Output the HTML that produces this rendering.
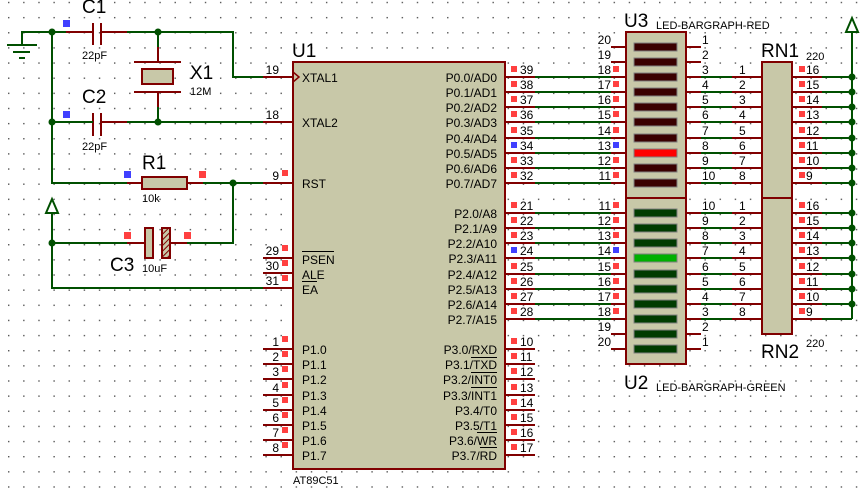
<!DOCTYPE html>
<html><head><meta charset="utf-8"><style>
html,body{margin:0;padding:0;background:#fff;}
svg{display:block;font-family:"Liberation Sans",sans-serif;}
.p{stroke:#800000;stroke-width:2;fill:none}
.w{stroke:#005000;stroke-width:2;fill:none}
.n{font-size:12px;fill:#000}
.l{font-size:12px;fill:#000}
.t{font-size:19px;fill:#000}
.s{font-size:11px;fill:#000}
</style></head><body>
<svg width="866" height="488" viewBox="0 0 866 488" xmlns="http://www.w3.org/2000/svg">
<defs>
<pattern id="g" x="8" y="1.8" width="15.14" height="15.14" patternUnits="userSpaceOnUse"><rect x="0" y="0" width="1.4" height="1.4" fill="#555"/></pattern>
<pattern id="h" width="4" height="4" patternUnits="userSpaceOnUse" patternTransform="rotate(45)"><rect width="4" height="4" fill="#c8c8a8"/><line x1="0" y1="0" x2="0" y2="4" stroke="#800000" stroke-width="2"/></pattern>
</defs>
<rect width="866" height="488" fill="url(#g)"/>

<!-- Left circuit -->
<g class="w">
<path d="M22 45V32H66"/>
<path d="M127 32H233V77H263"/>
<path d="M158 32V47M158 107V122"/>
<path d="M52 32V183H127"/>
<path d="M52 122H93M127 122H263"/>
<path d="M203 183H263M233 183V243H187"/>
<path d="M52 243H127"/>
<path d="M52 213V288H263"/>
</g>
<g class="p">
<path d="M66 32H93M93 23V45M101 23V45M101 32H127"/>
<path d="M66 122H93M93 113V136M101 113V136M101 122H127"/>
<path d="M158 47V62M134 62H181M134 92H181M158 92V107"/>
<path d="M127 183H142M187 183H203"/>
<path d="M127 243H145M170 243H187"/>
</g>
<line x1="93" y1="122" x2="66" y2="122" class="w"/>
<rect x="142" y="69" width="31" height="15" fill="#c8c8a8" stroke="#800000" stroke-width="2"/>
<rect x="142" y="177" width="45" height="12" fill="#c8c8a8" stroke="#800000" stroke-width="2"/>
<rect x="145" y="228" width="8" height="30" fill="#c8c8a8" stroke="#800000" stroke-width="2"/>
<rect x="162" y="228" width="8" height="30" fill="url(#h)" stroke="#800000" stroke-width="2"/>
<g stroke="#005000" stroke-width="2" fill="none">
<path d="M7 45H37M13 52H30M19 58H25"/>
<path d="M46 213L52 199L58 213Z"/>
<path d="M846 32L852 18L858 32Z"/>
</g>
<g fill="#005000">
<circle cx="52" cy="32" r="3.5"/><circle cx="158" cy="32" r="3.5"/><circle cx="52" cy="122" r="3.5"/><circle cx="158" cy="122" r="3.5"/><circle cx="233" cy="183" r="3.5"/><circle cx="52" cy="243" r="3.5"/>
</g>
<g fill="#4040ff"><rect x="63" y="20" width="7" height="7"/><rect x="63" y="111" width="7" height="7"/><rect x="124" y="171" width="7" height="7"/></g>
<g fill="#ff4040"><rect x="199" y="171" width="7" height="7"/><rect x="124" y="232" width="7" height="7"/><rect x="184" y="232" width="7" height="7"/></g>
<text x="82" y="13" class="t">C1</text>
<text x="82" y="103" class="t">C2</text>
<text x="142" y="169" class="t">R1</text>
<text x="110" y="271" class="t">C3</text>
<text x="190" y="79" class="t">X1</text>
<text x="82" y="59" class="s">22pF</text>
<text x="82" y="150" class="s">22pF</text>
<text x="142" y="202" class="s">10k</text>
<text x="142" y="272" class="s">10uF</text>
<text x="190" y="95" class="s">12M</text>

<!-- U1 -->
<rect x="293" y="62" width="212" height="407" fill="#c8c8a8" stroke="#800000" stroke-width="2"/>
<text x="292" y="57" class="t">U1</text>
<text x="293" y="484" class="s">AT89C51</text>
<path d="M293 72L299 77L293 82" stroke="#800000" stroke-width="1.5" fill="none"/>
<g class="p">
<path d="M263 77H293M263 122H293M263 183H293M263 258H293M263 273H293M263 288H293"/>
<path d="M263 349H293M263 364H293M263 379H293M263 395H293M263 410H293M263 425H293M263 440H293M263 455H293"/>
<path d="M505 77H535M505 92H535M505 107H535M505 122H535M505 138H535M505 153H535M505 168H535M505 183H535"/>
<path d="M505 213H535M505 228H535M505 243H535M505 258H535M505 274H535M505 289H535M505 304H535M505 319H535"/>
<path d="M505 349H535M505 364H535M505 379H535M505 395H535M505 410H535M505 425H535M505 440H535M505 455H535"/>
</g>
<g class="l">
<text x="302" y="264">PSEN</text><text x="302" y="279">ALE</text><text x="302" y="294">EA</text>
<text x="302" y="82">XTAL1</text><text x="302" y="127">XTAL2</text><text x="302" y="188">RST</text>
<text x="302" y="354">P1.0</text><text x="302" y="369">P1.1</text><text x="302" y="384">P1.2</text><text x="302" y="400">P1.3</text><text x="302" y="415">P1.4</text><text x="302" y="430">P1.5</text><text x="302" y="445">P1.6</text><text x="302" y="460">P1.7</text>
</g>
<g class="l" text-anchor="end">
<text x="497" y="82">P0.0/AD0</text><text x="497" y="97">P0.1/AD1</text><text x="497" y="112">P0.2/AD2</text><text x="497" y="127">P0.3/AD3</text><text x="497" y="143">P0.4/AD4</text><text x="497" y="158">P0.5/AD5</text><text x="497" y="173">P0.6/AD6</text><text x="497" y="188">P0.7/AD7</text>
<text x="497" y="218">P2.0/A8</text><text x="497" y="233">P2.1/A9</text><text x="497" y="248">P2.2/A10</text><text x="497" y="263">P2.3/A11</text><text x="497" y="279">P2.4/A12</text><text x="497" y="294">P2.5/A13</text><text x="497" y="309">P2.6/A14</text><text x="497" y="324">P2.7/A15</text>
<text x="497" y="354">P3.0/RXD</text><text x="497" y="369">P3.1/TXD</text><text x="497" y="384">P3.2/INT0</text><text x="497" y="400">P3.3/INT1</text><text x="497" y="415">P3.4/T0</text><text x="497" y="430">P3.5/T1</text><text x="497" y="445">P3.6/WR</text><text x="497" y="460">P3.7/RD</text>
</g>
<g stroke="#000" stroke-width="1">
<path d="M302 251.5H334M302 281.5H317"/>
<path d="M471 357.5H497M471 372.5H497M471 387.5H497M477 432.5H497M480 447.5H497"/>
</g>
<g class="n" text-anchor="end">
<text x="279" y="74">19</text><text x="279" y="119">18</text><text x="279" y="180">9</text><text x="279" y="255">29</text><text x="279" y="270">30</text><text x="279" y="285">31</text>
<text x="279" y="346">1</text><text x="279" y="361">2</text><text x="279" y="376">3</text><text x="279" y="392">4</text><text x="279" y="407">5</text><text x="279" y="422">6</text><text x="279" y="437">7</text><text x="279" y="452">8</text>
</g>
<g class="n">
<text x="520" y="74">39</text><text x="520" y="89">38</text><text x="520" y="104">37</text><text x="520" y="119">36</text><text x="520" y="135">35</text><text x="520" y="150">34</text><text x="520" y="165">33</text><text x="520" y="180">32</text>
<text x="520" y="210">21</text><text x="520" y="225">22</text><text x="520" y="240">23</text><text x="520" y="255">24</text><text x="520" y="271">25</text><text x="520" y="286">26</text><text x="520" y="301">27</text><text x="520" y="316">28</text>
<text x="520" y="346">10</text><text x="520" y="361">11</text><text x="520" y="376">12</text><text x="520" y="392">13</text><text x="520" y="407">14</text><text x="520" y="422">15</text><text x="520" y="437">16</text><text x="520" y="452">17</text>
</g>
<g fill="#ff4040">
<rect x="282" y="245" width="6" height="6"/><rect x="282" y="260" width="6" height="6"/><rect x="282" y="275" width="6" height="6"/>
<rect x="282" y="336" width="6" height="6"/><rect x="282" y="351" width="6" height="6"/><rect x="282" y="366" width="6" height="6"/><rect x="282" y="382" width="6" height="6"/><rect x="282" y="397" width="6" height="6"/><rect x="282" y="412" width="6" height="6"/><rect x="282" y="427" width="6" height="6"/><rect x="282" y="442" width="6" height="6"/>
<rect x="282" y="170" width="6" height="6"/>
<rect x="511" y="66" width="6" height="6"/><rect x="511" y="81" width="6" height="6"/><rect x="511" y="96" width="6" height="6"/><rect x="511" y="111" width="6" height="6"/><rect x="511" y="127" width="6" height="6"/><rect x="511" y="157" width="6" height="6"/><rect x="511" y="172" width="6" height="6"/>
<rect x="511" y="202" width="6" height="6"/><rect x="511" y="217" width="6" height="6"/><rect x="511" y="232" width="6" height="6"/><rect x="511" y="263" width="6" height="6"/><rect x="511" y="278" width="6" height="6"/><rect x="511" y="293" width="6" height="6"/><rect x="511" y="308" width="6" height="6"/>
<rect x="511" y="338" width="6" height="6"/><rect x="511" y="353" width="6" height="6"/><rect x="511" y="368" width="6" height="6"/><rect x="511" y="384" width="6" height="6"/><rect x="511" y="399" width="6" height="6"/><rect x="511" y="414" width="6" height="6"/><rect x="511" y="429" width="6" height="6"/><rect x="511" y="444" width="6" height="6"/>
</g>
<g fill="#4040ff"><rect x="511" y="142" width="6" height="6"/><rect x="511" y="247" width="6" height="6"/></g>

<!-- wires from U1 to bargraphs -->
<g class="w">
<path d="M535 77H611M535 92H611M535 107H611M535 122H611M535 138H611M535 153H611M535 168H611M535 183H611"/>
<path d="M535 213H611M535 228H611M535 243H611M535 258H611M535 274H611M535 289H611M535 304H611M535 319H611"/>
<path d="M701 77H732M701 92H732M701 107H732M701 122H732M701 138H732M701 153H732M701 168H732M701 183H732"/>
<path d="M701 213H732M701 228H732M701 243H732M701 258H732M701 274H732M701 289H732M701 304H732M701 319H732"/>
<path d="M822 77H852M822 92H852M822 107H852M822 122H852M822 138H852M822 153H852M822 168H852M822 183H852"/>
<path d="M822 213H852M822 228H852M822 243H852M822 258H852M822 274H852M822 289H852M822 304H852M822 319H852"/>
<path d="M852 32V319"/>
</g>
<g fill="#005000">
<circle cx="852" cy="77" r="3.5"/><circle cx="852" cy="92" r="3.5"/><circle cx="852" cy="107" r="3.5"/><circle cx="852" cy="122" r="3.5"/><circle cx="852" cy="138" r="3.5"/><circle cx="852" cy="153" r="3.5"/><circle cx="852" cy="168" r="3.5"/><circle cx="852" cy="183" r="3.5"/>
<circle cx="852" cy="213" r="3.5"/><circle cx="852" cy="228" r="3.5"/><circle cx="852" cy="243" r="3.5"/><circle cx="852" cy="258" r="3.5"/><circle cx="852" cy="274" r="3.5"/><circle cx="852" cy="289" r="3.5"/><circle cx="852" cy="304" r="3.5"/>
</g>

<!-- Bargraph pins -->
<g class="p">
<path d="M611 47H626M611 62H626M611 77H626M611 92H626M611 107H626M611 122H626M611 138H626M611 153H626M611 168H626M611 183H626"/>
<path d="M611 213H626M611 228H626M611 243H626M611 258H626M611 274H626M611 289H626M611 304H626M611 319H626M611 334H626M611 349H626"/>
<path d="M686 47H701M686 62H701M686 77H701M686 92H701M686 107H701M686 122H701M686 138H701M686 153H701M686 168H701M686 183H701"/>
<path d="M686 213H701M686 228H701M686 243H701M686 258H701M686 274H701M686 289H701M686 304H701M686 319H701M686 334H701M686 349H701"/>
<path d="M732 77H762M732 92H762M732 107H762M732 122H762M732 138H762M732 153H762M732 168H762M732 183H762"/>
<path d="M732 213H762M732 228H762M732 243H762M732 258H762M732 274H762M732 289H762M732 304H762M732 319H762"/>
<path d="M792 77H822M792 92H822M792 107H822M792 122H822M792 138H822M792 153H822M792 168H822M792 183H822"/>
<path d="M792 213H822M792 228H822M792 243H822M792 258H822M792 274H822M792 289H822M792 304H822M792 319H822"/>
</g>
<rect x="626" y="32" width="60" height="332" fill="#c8c8a8" stroke="#800000" stroke-width="2"/>
<line x1="626" y1="198" x2="686" y2="198" stroke="#800000" stroke-width="2"/>
<rect x="762" y="62" width="30" height="272" fill="#c8c8a8" stroke="#800000" stroke-width="2"/>
<line x1="762" y1="198" x2="792" y2="198" stroke="#800000" stroke-width="2"/>
<g stroke="#808080" stroke-width="1">
<g fill="#3a0000">
<rect x="634" y="43" width="43" height="8"/><rect x="634" y="58" width="43" height="8"/><rect x="634" y="73" width="43" height="8"/><rect x="634" y="88" width="43" height="8"/><rect x="634" y="103" width="43" height="8"/><rect x="634" y="118" width="43" height="8"/><rect x="634" y="134" width="43" height="8"/><rect x="634" y="164" width="43" height="8"/><rect x="634" y="179" width="43" height="8"/>
</g>
<rect x="634" y="149" width="43" height="8" fill="#ff0000"/>
<g fill="#003c00">
<rect x="634" y="209" width="43" height="8"/><rect x="634" y="224" width="43" height="8"/><rect x="634" y="239" width="43" height="8"/><rect x="634" y="270" width="43" height="8"/><rect x="634" y="285" width="43" height="8"/><rect x="634" y="300" width="43" height="8"/><rect x="634" y="315" width="43" height="8"/><rect x="634" y="330" width="43" height="8"/><rect x="634" y="345" width="43" height="8"/>
</g>
<rect x="634" y="254" width="43" height="8" fill="#00b000"/>
</g>
<g class="n" text-anchor="end">
<text x="611" y="44">20</text><text x="611" y="59">19</text><text x="611" y="74">18</text><text x="611" y="89">17</text><text x="611" y="104">16</text><text x="611" y="119">15</text><text x="611" y="135">14</text><text x="611" y="150">13</text><text x="611" y="165">12</text><text x="611" y="180">11</text>
<text x="611" y="210">11</text><text x="611" y="225">12</text><text x="611" y="240">13</text><text x="611" y="255">14</text><text x="611" y="271">15</text><text x="611" y="286">16</text><text x="611" y="301">17</text><text x="611" y="316">18</text><text x="611" y="331">19</text><text x="611" y="346">20</text>
</g>
<g class="n">
<text x="702" y="44">1</text><text x="702" y="59">2</text><text x="702" y="74">3</text><text x="702" y="89">4</text><text x="702" y="104">5</text><text x="702" y="119">6</text><text x="702" y="135">7</text><text x="702" y="150">8</text><text x="702" y="165">9</text><text x="702" y="180">10</text>
<text x="702" y="210">10</text><text x="702" y="225">9</text><text x="702" y="240">8</text><text x="702" y="255">7</text><text x="702" y="271">6</text><text x="702" y="286">5</text><text x="702" y="301">4</text><text x="702" y="316">3</text><text x="702" y="331">2</text><text x="702" y="346">1</text>
<text x="739" y="74">1</text><text x="739" y="89">2</text><text x="739" y="104">3</text><text x="739" y="119">4</text><text x="739" y="135">5</text><text x="739" y="150">6</text><text x="739" y="165">7</text><text x="739" y="180">8</text>
<text x="739" y="210">1</text><text x="739" y="225">2</text><text x="739" y="240">3</text><text x="739" y="255">4</text><text x="739" y="271">5</text><text x="739" y="286">6</text><text x="739" y="301">7</text><text x="739" y="316">8</text>
<text x="806" y="74">16</text><text x="806" y="89">15</text><text x="806" y="104">14</text><text x="806" y="119">13</text><text x="806" y="135">12</text><text x="806" y="150">11</text><text x="806" y="165">10</text><text x="806" y="180">9</text>
<text x="806" y="210">16</text><text x="806" y="225">15</text><text x="806" y="240">14</text><text x="806" y="255">13</text><text x="806" y="271">12</text><text x="806" y="286">11</text><text x="806" y="301">10</text><text x="806" y="316">9</text>
</g>
<g fill="#ff4040">
<rect x="613" y="66" width="6" height="6"/><rect x="613" y="81" width="6" height="6"/><rect x="613" y="96" width="6" height="6"/><rect x="613" y="111" width="6" height="6"/><rect x="613" y="127" width="6" height="6"/><rect x="613" y="157" width="6" height="6"/><rect x="613" y="172" width="6" height="6"/>
<rect x="613" y="202" width="6" height="6"/><rect x="613" y="217" width="6" height="6"/><rect x="613" y="232" width="6" height="6"/><rect x="613" y="263" width="6" height="6"/><rect x="613" y="278" width="6" height="6"/><rect x="613" y="293" width="6" height="6"/><rect x="613" y="308" width="6" height="6"/>
<rect x="799" y="66" width="6" height="6"/><rect x="799" y="81" width="6" height="6"/><rect x="799" y="96" width="6" height="6"/><rect x="799" y="111" width="6" height="6"/><rect x="799" y="127" width="6" height="6"/><rect x="799" y="142" width="6" height="6"/><rect x="799" y="157" width="6" height="6"/><rect x="799" y="172" width="6" height="6"/>
<rect x="799" y="202" width="6" height="6"/><rect x="799" y="217" width="6" height="6"/><rect x="799" y="232" width="6" height="6"/><rect x="799" y="247" width="6" height="6"/><rect x="799" y="263" width="6" height="6"/><rect x="799" y="278" width="6" height="6"/><rect x="799" y="293" width="6" height="6"/><rect x="799" y="308" width="6" height="6"/>
</g>
<g fill="#4040ff"><rect x="613" y="142" width="6" height="6"/><rect x="613" y="247" width="6" height="6"/></g>
<text x="624" y="27" class="t">U3</text>
<text x="656" y="29" class="s">LED-BARGRAPH-RED</text>
<text x="624" y="389" class="t">U2</text>
<text x="656" y="391" class="s">LED-BARGRAPH-GREEN</text>
<text x="761" y="57" class="t">RN1</text>
<text x="806" y="60" class="s">220</text>
<text x="761" y="358" class="t">RN2</text>
<text x="806" y="347" class="s">220</text>
</svg>
</body></html>
